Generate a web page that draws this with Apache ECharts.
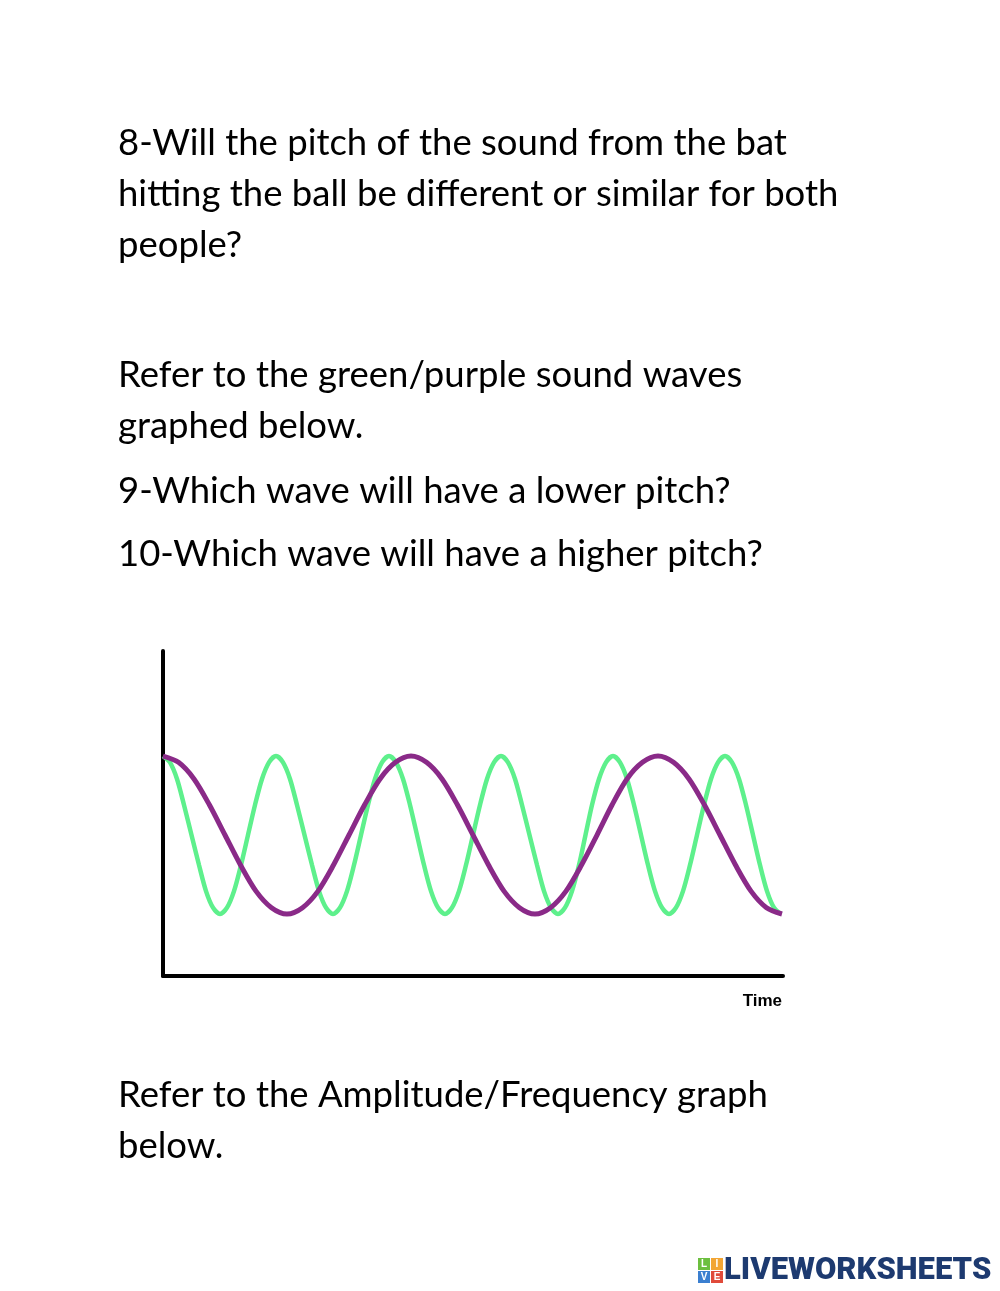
<!DOCTYPE html>
<html><head><meta charset="utf-8">
<script src="https://cdn.jsdelivr.net/npm/echarts@6/dist/echarts.min.js"></script>
<style>html,body{margin:0;padding:0;background:#fff}#c{width:1000px;height:1291px}</style>
</head><body><div id="c"></div>
<script>
// Green wave (higher frequency): [time, displacement]
var greenWave = [
 [0,1],[7,0.92],[14,0.71],[21,0.38],[28.5,0],[36,-0.38],[43,-0.71],[50,-0.92],[57,-1],
 [64,-0.92],[71,-0.71],[78,-0.38],[85,0],[92,0.38],[99,0.71],[106,0.92],[113,1],
 [120,0.92],[127,0.71],[134,0.38],[141.5,0],[149,-0.38],[156,-0.71],[163,-0.92],[170,-1],
 [177,-0.92],[184,-0.71],[191,-0.38],[198,0],[205,0.38],[212,0.71],[219,0.92],[226,1],
 [233,0.92],[240,0.71],[247,0.38],[254,0],[261,-0.38],[268,-0.71],[275,-0.92],[282,-1],
 [289,-0.92],[296,-0.71],[303,-0.38],[310,0],[317,0.38],[324,0.71],[331,0.92],[338,1],
 [345,0.92],[352,0.71],[359,0.38],[366.5,0],[374,-0.38],[381,-0.71],[388,-0.92],[395,-1],
 [402,-0.92],[409,-0.71],[416,-0.38],[422.5,0],[429,0.38],[436,0.71],[443,0.92],[450,1],
 [457,0.92],[464,0.71],[471,0.38],[478,0],[485,-0.38],[492,-0.71],[499,-0.92],[506,-1],
 [513,-0.92],[520,-0.71],[527,-0.38],[534,0],[541,0.38],[548,0.71],[555,0.92],[562,1],
 [569,0.92],[576,0.71],[583,0.38],[590,0],[597,-0.38],[604,-0.71],[611,-0.92],[618,-1]
];
// Purple wave (lower frequency)
var purpleWave = [
 [0,1],[15.5,0.92],[31,0.71],[46.5,0.38],[62,0],[77.5,-0.38],[93,-0.71],[108.5,-0.92],[124,-1],
 [139.5,-0.92],[155,-0.71],[170.5,-0.38],[186,0],[201.5,0.38],[217,0.71],[232.5,0.92],[248,1],
 [263.5,0.92],[279,0.71],[294.5,0.38],[310,0],[325.5,-0.38],[341,-0.71],[356.5,-0.92],[372,-1],
 [387.5,-0.92],[403,-0.71],[418.5,-0.38],[434,0],[449,0.38],[464,0.71],[479.5,0.92],[495,1],
 [510.5,0.92],[526,0.71],[541.5,0.38],[557,0],[572.5,-0.38],[588,-0.71],[603.5,-0.92],[619,-1]
];
var axisLabelX = 'Time';
var textLines = [
 ['8-Will the pitch of the sound from the bat', 143],
 ['hitting the ball be different or similar for both', 194],
 ['people?', 245],
 ['Refer to the green/purple sound waves', 375],
 ['graphed below.', 426],
 ['9-Which wave will have a lower pitch?', 491],
 ['10-Which wave will have a higher pitch?', 554],
 ['Refer to the Amplitude/Frequency graph', 1095],
 ['below.', 1146]
];
var brand = 'LIVEWORKSHEETS';
var badge = [['L','#6cbf3f',0,0],['I','#f2a533',1,0],['V','#3b7fd0',0,1],['E','#e04a3a',1,1]];

var chart = echarts.init(document.getElementById('c'));
var graphics = textLines.map(function(l){
  return {type:'text', x:118, y:l[1], style:{text:l[0], font:'36.5px Lato', fill:'#000', verticalAlign:'middle'}};
});
graphics.push({type:'text', x:782, y:1001, style:{text:axisLabelX, font:'bold 17px "Liberation Sans"', fill:'#000', align:'right', verticalAlign:'middle'}});
badge.forEach(function(b){
  graphics.push({type:'rect', shape:{x:698+b[2]*13, y:1258+b[3]*13, width:12, height:12}, style:{fill:b[1]}});
  graphics.push({type:'text', x:704+b[2]*13, y:1264+b[3]*13, style:{text:b[0], font:'bold 10px "Liberation Sans"', fill:'#fff', align:'center', verticalAlign:'middle'}});
});
graphics.push({type:'text', x:724, y:1271, style:{text:brand, font:'900 31px Roboto', fill:'#1d3a70', verticalAlign:'middle'}});

chart.setOption({
  animation:false,
  grid:{left:163, right:217, top:651, bottom:315},
  xAxis:{type:'value', min:0, max:620, axisLine:{show:true, onZero:false, lineStyle:{color:'#000', width:4}}, axisTick:{show:false}, axisLabel:{show:false}, splitLine:{show:false}},
  yAxis:{type:'value', min:-1.785, max:2.33, axisLine:{show:true, lineStyle:{color:'#000', width:4}}, axisTick:{show:false}, axisLabel:{show:false}, splitLine:{show:false}},
  series:[
    {type:'line', data:greenWave, smooth:0.3, symbol:'none', lineStyle:{color:'#5ef08c', width:4.5}},
    {type:'line', data:purpleWave, smooth:0.3, symbol:'none', lineStyle:{color:'#8a2a88', width:5}}
  ],
  graphic:graphics
});
</script></body></html>
